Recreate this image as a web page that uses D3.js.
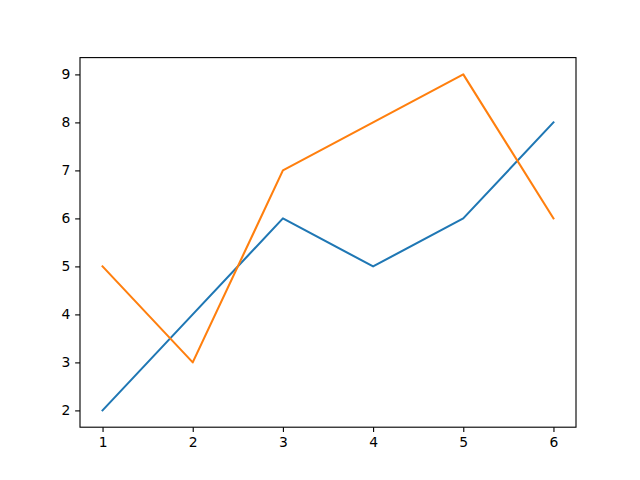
<!DOCTYPE html>
<html><head><meta charset="utf-8">
<script src="https://cdn.jsdelivr.net/npm/d3@7"></script>
<style>body{margin:0;background:#fff}</style>
</head><body>
<svg id="c" width="640" height="480"></svg>
<script>
const xValues = [1, 2, 3, 4, 5, 6];
const seriesA = [2, 4, 6, 5, 6, 8];
const seriesB = [5, 3, 7, 8, 9, 6];
const xTicks = [1, 2, 3, 4, 5, 6];
const yTicks = [2, 3, 4, 5, 6, 7, 8, 9];
const colors = ["#1f77b4", "#ff7f0e"];

const svg = d3.select("#c");
const L = 80, R = 576, T = 57.6, B = 427.2;
const x = d3.scaleLinear().domain([0.75, 6.25]).range([L, R]);
const y = d3.scaleLinear().domain([1.65, 9.35]).range([B, T]);

const fs = 13.89, tl = 4.86, pad = 4.86;
const g = svg.append("g").attr("font-family", "DejaVu Sans").attr("font-size", fs);

const xa = g.append("g").attr("transform", `translate(0,${B})`)
  .call(d3.axisBottom(x).tickValues(xTicks).tickFormat(d3.format("d")).tickSizeInner(tl).tickSizeOuter(0).tickPadding(pad));
const ya = g.append("g").attr("transform", `translate(${L},0)`)
  .call(d3.axisLeft(y).tickValues(yTicks).tickFormat(d3.format("d")).tickSizeInner(tl).tickSizeOuter(0).tickPadding(pad));
[xa, ya].forEach(a => {
  a.select(".domain").remove();
  a.selectAll(".tick line").attr("stroke", "#000").attr("stroke-width", 1.11);
  a.selectAll("text").attr("fill", "#000").attr("font-family", "DejaVu Sans").attr("font-size", fs);
});

const line = d3.line().x((d, i) => x(xValues[i])).y(d => y(d));
[seriesA, seriesB].forEach((s, k) => {
  svg.append("path").datum(s).attr("d", line).attr("fill", "none")
    .attr("stroke", colors[k]).attr("stroke-width", 2.08)
    .attr("stroke-linejoin", "round").attr("stroke-linecap", "square");
});

svg.append("rect").attr("x", L).attr("y", T).attr("width", R - L).attr("height", B - T)
  .attr("fill", "none").attr("stroke", "#000").attr("stroke-width", 1.11);
</script>
</body></html>
